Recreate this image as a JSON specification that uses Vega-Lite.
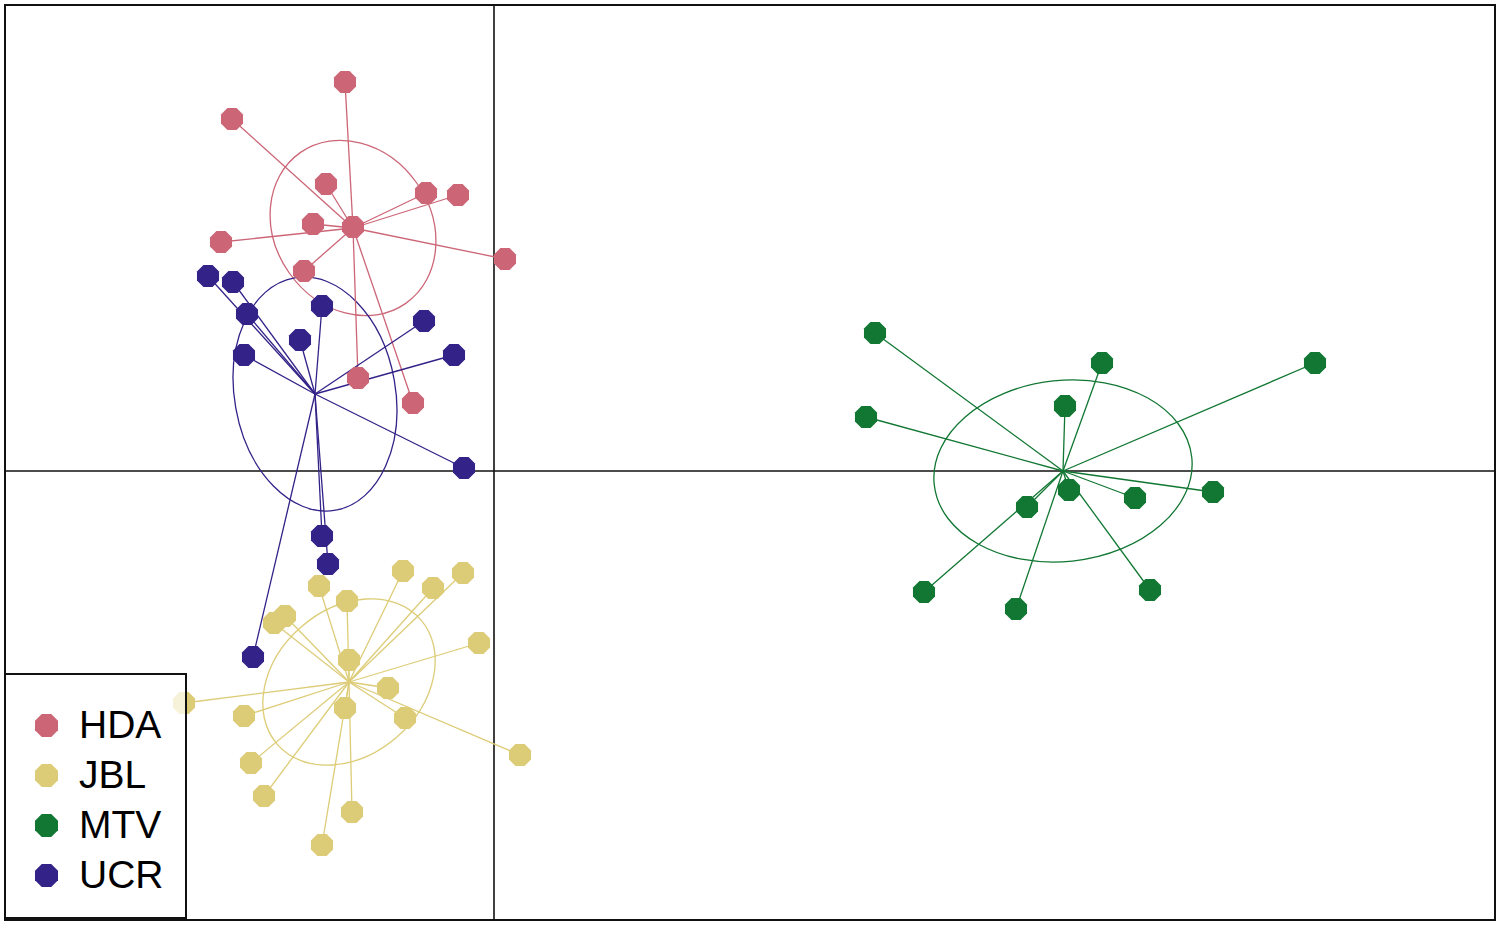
{
  "$schema": "https://vega.github.io/schema/vega-lite/v6.json",
  "width": 1490,
  "height": 915,
  "autosize": {"type": "none"},
  "padding": {"left": 5, "top": 5, "right": 4, "bottom": 7},
  "background": "white",
  "datasets": {
    "points": [
      {"group": "HDA", "x": -1.49, "y": 3.89},
      {"group": "HDA", "x": -2.62, "y": 3.52},
      {"group": "HDA", "x": -1.68, "y": 2.87},
      {"group": "HDA", "x": -0.68, "y": 2.78},
      {"group": "HDA", "x": -0.36, "y": 2.76},
      {"group": "HDA", "x": -1.81, "y": 2.47},
      {"group": "HDA", "x": -1.41, "y": 2.44},
      {"group": "HDA", "x": -2.73, "y": 2.29},
      {"group": "HDA", "x": 0.11, "y": 2.12},
      {"group": "HDA", "x": -1.9, "y": 2.0},
      {"group": "HDA", "x": -1.36, "y": 0.93},
      {"group": "HDA", "x": -0.81, "y": 0.68},
      {"group": "JBL", "x": -0.91, "y": -1.0},
      {"group": "JBL", "x": -0.31, "y": -1.02},
      {"group": "JBL", "x": -1.75, "y": -1.15},
      {"group": "JBL", "x": -0.61, "y": -1.17},
      {"group": "JBL", "x": -1.47, "y": -1.3},
      {"group": "JBL", "x": -2.09, "y": -1.45},
      {"group": "JBL", "x": -2.2, "y": -1.52},
      {"group": "JBL", "x": -0.15, "y": -1.72},
      {"group": "JBL", "x": -1.45, "y": -1.89},
      {"group": "JBL", "x": -1.06, "y": -2.17},
      {"group": "JBL", "x": -3.1, "y": -2.32},
      {"group": "JBL", "x": -1.49, "y": -2.37},
      {"group": "JBL", "x": -2.5, "y": -2.45},
      {"group": "JBL", "x": -0.89, "y": -2.47},
      {"group": "JBL", "x": 0.26, "y": -2.84},
      {"group": "JBL", "x": -2.43, "y": -2.92},
      {"group": "JBL", "x": -2.3, "y": -3.25},
      {"group": "JBL", "x": -1.42, "y": -3.41},
      {"group": "JBL", "x": -1.72, "y": -3.74},
      {"group": "MTV", "x": 3.81, "y": 1.38},
      {"group": "MTV", "x": 6.08, "y": 1.08},
      {"group": "MTV", "x": 8.21, "y": 1.08},
      {"group": "MTV", "x": 3.72, "y": 0.54},
      {"group": "MTV", "x": 5.71, "y": 0.65},
      {"group": "MTV", "x": 5.75, "y": -0.19},
      {"group": "MTV", "x": 6.41, "y": -0.27},
      {"group": "MTV", "x": 7.19, "y": -0.21},
      {"group": "MTV", "x": 5.33, "y": -0.36},
      {"group": "MTV", "x": 4.3, "y": -1.21},
      {"group": "MTV", "x": 6.56, "y": -1.19},
      {"group": "MTV", "x": 5.22, "y": -1.38},
      {"group": "UCR", "x": -2.86, "y": 1.95},
      {"group": "UCR", "x": -2.61, "y": 1.89},
      {"group": "UCR", "x": -2.47, "y": 1.57},
      {"group": "UCR", "x": -1.72, "y": 1.65},
      {"group": "UCR", "x": -1.94, "y": 1.31},
      {"group": "UCR", "x": -2.5, "y": 1.16},
      {"group": "UCR", "x": -0.7, "y": 1.5},
      {"group": "UCR", "x": -0.4, "y": 1.16},
      {"group": "UCR", "x": -0.3, "y": 0.03},
      {"group": "UCR", "x": -1.72, "y": -0.65},
      {"group": "UCR", "x": -1.66, "y": -0.93},
      {"group": "UCR", "x": -2.41, "y": -1.86}
    ],
    "groups": [
      {"group": "HDA", "cx": -1.41, "cy": 2.43},
      {"group": "JBL", "cx": -1.45, "cy": -2.11},
      {"group": "MTV", "cx": 5.69, "cy": 0.0},
      {"group": "UCR", "cx": -1.79, "cy": 0.77}
    ],
    "origin": [{"x0": 0, "y0": 0}]
  },
  "layer": [
    {
      "data": {"name": "origin"},
      "mark": {"type": "rule", "color": "#111111", "strokeWidth": 1.6},
      "encoding": {"y": {"field": "y0", "type": "quantitative", "scale": {"domain": [-4.49, 4.66], "nice": false, "zero": false}, "axis": null}}
    },
    {
      "data": {"name": "origin"},
      "mark": {"type": "rule", "color": "#111111", "strokeWidth": 1.6},
      "encoding": {"x": {"field": "x0", "type": "quantitative", "scale": {"domain": [-4.89, 10.01], "nice": false, "zero": false}, "axis": null}}
    },
    {
      "data": {"name": "groups"},
      "transform": [{"filter": "datum.group === 'HDA'"}],
      "mark": {"type": "point", "shape": "M1,0 C1,0.468 0.5523,0.848 0,0.848 C-0.5523,0.848 -1,0.468 -1,0 C-1,-0.468 -0.5523,-0.848 0,-0.848 C0.5523,-0.848 1,-0.468 1,0 Z", "size": 33856, "angle": 55, "filled": false, "color": "#CC6677", "strokeWidth": 1.3, "opacity": 1},
      "encoding": {
        "x": {"field": "cx", "type": "quantitative", "scale": {"domain": [-4.89, 10.01], "nice": false, "zero": false}, "axis": null},
        "y": {"field": "cy", "type": "quantitative", "scale": {"domain": [-4.49, 4.66], "nice": false, "zero": false}, "axis": null}
      }
    },
    {
      "data": {"name": "groups"},
      "transform": [{"filter": "datum.group === 'JBL'"}],
      "mark": {"type": "point", "shape": "M1,0 C1,0.424 0.5523,0.768 0,0.768 C-0.5523,0.768 -1,0.424 -1,0 C-1,-0.424 -0.5523,-0.768 0,-0.768 C0.5523,-0.768 1,-0.424 1,0 Z", "size": 36100, "angle": 319, "filled": false, "color": "#DDCC77", "strokeWidth": 1.3, "opacity": 1},
      "encoding": {
        "x": {"field": "cx", "type": "quantitative", "scale": {"domain": [-4.89, 10.01], "nice": false, "zero": false}, "axis": null},
        "y": {"field": "cy", "type": "quantitative", "scale": {"domain": [-4.49, 4.66], "nice": false, "zero": false}, "axis": null}
      }
    },
    {
      "data": {"name": "groups"},
      "transform": [{"filter": "datum.group === 'MTV'"}],
      "mark": {"type": "point", "shape": "M1,0 C1,0.386 0.5523,0.699 0,0.699 C-0.5523,0.699 -1,0.386 -1,0 C-1,-0.386 -0.5523,-0.699 0,-0.699 C0.5523,-0.699 1,-0.386 1,0 Z", "size": 67081, "angle": 354, "filled": false, "color": "#117733", "strokeWidth": 1.3, "opacity": 1},
      "encoding": {
        "x": {"field": "cx", "type": "quantitative", "scale": {"domain": [-4.89, 10.01], "nice": false, "zero": false}, "axis": null},
        "y": {"field": "cy", "type": "quantitative", "scale": {"domain": [-4.49, 4.66], "nice": false, "zero": false}, "axis": null}
      }
    },
    {
      "data": {"name": "groups"},
      "transform": [{"filter": "datum.group === 'UCR'"}],
      "mark": {"type": "point", "shape": "M1,0 C1,0.377 0.5523,0.682 0,0.682 C-0.5523,0.682 -1,0.377 -1,0 C-1,-0.377 -0.5523,-0.682 0,-0.682 C0.5523,-0.682 1,-0.377 1,0 Z", "size": 55696, "angle": 80, "filled": false, "color": "#332288", "strokeWidth": 1.3, "opacity": 1},
      "encoding": {
        "x": {"field": "cx", "type": "quantitative", "scale": {"domain": [-4.89, 10.01], "nice": false, "zero": false}, "axis": null},
        "y": {"field": "cy", "type": "quantitative", "scale": {"domain": [-4.49, 4.66], "nice": false, "zero": false}, "axis": null}
      }
    },
    {
      "data": {"name": "points"},
      "transform": [{"lookup": "group", "from": {"data": {"name": "groups"}, "key": "group", "fields": ["cx", "cy"]}}],
      "mark": {"type": "rule", "strokeWidth": 1.3},
      "encoding": {
        "x": {"field": "x", "type": "quantitative", "scale": {"domain": [-4.89, 10.01], "nice": false, "zero": false}, "axis": null},
        "y": {"field": "y", "type": "quantitative", "scale": {"domain": [-4.49, 4.66], "nice": false, "zero": false}, "axis": null},
        "x2": {"field": "cx"},
        "y2": {"field": "cy"},
        "stroke": {"field": "group", "type": "nominal", "scale": {"range": ["#CC6677", "#DDCC77", "#117733", "#332288"]}, "legend": null}
      }
    },
    {
      "data": {"name": "points"},
      "mark": {"type": "point", "filled": true, "opacity": 1, "size": 570, "strokeWidth": 0, "shape": "M0.383,-0.924 L0.924,-0.383 L0.924,0.383 L0.383,0.924 L-0.383,0.924 L-0.924,0.383 L-0.924,-0.383 L-0.383,-0.924 Z"},
      "encoding": {
        "x": {"field": "x", "type": "quantitative", "scale": {"domain": [-4.89, 10.01], "nice": false, "zero": false}, "axis": null},
        "y": {"field": "y", "type": "quantitative", "scale": {"domain": [-4.49, 4.66], "nice": false, "zero": false}, "axis": null},
        "color": {
          "field": "group", "type": "nominal",
          "scale": {"domain": ["HDA", "JBL", "MTV", "UCR"], "range": ["#CC6677", "#DDCC77", "#117733", "#332288"]},
          "legend": {
            "title": " ",
            "titleFontSize": 1,
            "titlePadding": 9,
            "orient": "none",
            "legendX": 0,
            "legendY": 669,
            "fillColor": "rgba(255,255,255,0.72)",
            "strokeColor": "#111111",
            "padding": 22,
            "rowPadding": 10,
            "labelFontSize": 39,
            "labelFont": "Liberation Sans",
            "labelColor": "black",
            "labelOffset": 13,
            "symbolSize": 620,
            "symbolType": "M0.383,-0.924 L0.924,-0.383 L0.924,0.383 L0.383,0.924 L-0.383,0.924 L-0.924,0.383 L-0.924,-0.383 L-0.383,-0.924 Z",
            "symbolStrokeWidth": 0,
            "symbolOpacity": 1
          }
        }
      }
    }
  ],
  "config": {
    "view": {"stroke": "#111111", "strokeWidth": 2},
    "legend": {"strokeWidth": 2}
  }
}
